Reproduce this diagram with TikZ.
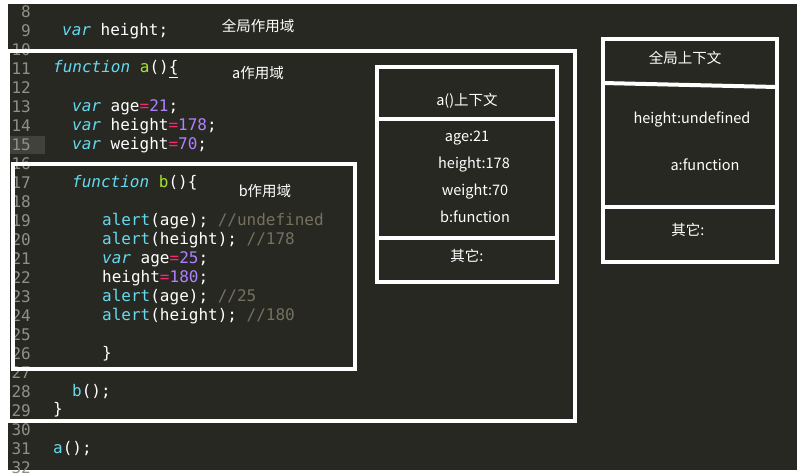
\documentclass[tikz,border=0pt]{standalone}
\usepackage{fontspec}
\setmainfont{Noto Sans CJK SC}
\setmonofont{DejaVu Sans Mono}
\usetikzlibrary{positioning}
\definecolor{bgdark}{HTML}{272822}
\definecolor{lnum}{HTML}{8F908A}
\definecolor{kw}{HTML}{66D9EF}
\definecolor{fn}{HTML}{A6E22E}
\definecolor{num}{HTML}{AE81FF}
\definecolor{op}{HTML}{F92672}
\definecolor{cmt}{HTML}{75715E}
\newcommand{\kv}{\textcolor{kw}{\itshape var}}
\newcommand{\kf}{\textcolor{kw}{\itshape function}}
\newcommand{\nm}[1]{\textcolor{op}{=}\textcolor{num}{#1}}
\tikzset{%
	codeline/.style = {anchor=west, inner sep=0pt, text=white, font=\ttfamily\fontsize{16}{19}\selectfont},
	lineno/.style   = {anchor=east, inner sep=0pt, text=lnum, font=\ttfamily\fontsize{16}{19}\selectfont},
	scopebox/.style = {draw=white, line width=4pt},
	label/.style    = {inner sep=0pt, text=white, font=\fontsize{14.5}{16}\selectfont},
}
\begin{document}
\begin{tikzpicture}[x=1pt,y=-1pt]
	\useasboundingbox (0,0) rectangle (801,475);
	\fill[white] (0,0) rectangle (801,475);
	\fill[bgdark] (8,4) rectangle (797,470);
	\fill[lnum!25!bgdark] (8,136) rectangle (45,154);
	% line numbers
	\foreach \n in {8,...,32}
		\node [lineno] (ln\n) at (31,{12+(\n-8)*19}) {\n};
	% code
	\node [codeline] (c9) at (62,31) {\kv{} height;};
	\node [codeline] (c11) at (53,69) {\kf{} \textcolor{fn}{a}(){\underline{\{}}};
	\node [codeline] (c13) at (72,107) {\kv{} age\nm{21};};
	\node [codeline] (c14) at (72,126) {\kv{} height\nm{178};};
	\node [codeline] (c15) at (72,145) {\kv{} weight\nm{70};};
	\node [codeline] (c17) at (72,183) {\kf{} \textcolor{fn}{b}()\{};
	\node [codeline] (c19) at (102,221) {\textcolor{kw}{alert}(age); \textcolor{cmt}{//undefined}};
	\node [codeline] (c20) at (102,240) {\textcolor{kw}{alert}(height); \textcolor{cmt}{//178}};
	\node [codeline] (c21) at (102,259) {\kv{} age\nm{25};};
	\node [codeline] (c22) at (102,278) {height\nm{180};};
	\node [codeline] (c23) at (102,297) {\textcolor{kw}{alert}(age); \textcolor{cmt}{//25}};
	\node [codeline] (c24) at (102,316) {\textcolor{kw}{alert}(height); \textcolor{cmt}{//180}};
	\node [codeline] (c26) at (102,354) {\}};
	\node [codeline] (c28) at (72,392) {\textcolor{kw}{b}();};
	\node [codeline] (c29) at (53,411) {\underline{\}}};
	\node [codeline] (c31) at (53,449) {\textcolor{kw}{a}();};
	% scopes
	\draw [scopebox] (8,51) rectangle (575,421);
	\draw [scopebox] (13,164) rectangle (355,369);
	\node [label] (gscope) at (258,26) {全局作用域};
	\node [label] (ascope) at (258,73) {a作用域};
	\node [label] (bscope) at (265,191) {b作用域};
	% a() context
	\draw [scopebox] (377,67) rectangle (557,282);
	\draw [scopebox] (377,119) -- (557,119);
	\draw [scopebox] (377,238) -- (557,238);
	\node [label] (actx) at (467,101) {a()上下文};
	\node [label] (aage) at (467,138) {age:21};
	\node [label] (aheight) at (474,165) {height:178};
	\node [label] (aweight) at (475,192) {weight:70};
	\node [label] (ab) at (475,217) {b:function};
	\node [label] (aother) at (467,256) {其它:};
	% global context
	\draw [scopebox] (603,39) rectangle (777,262);
	\draw [scopebox] (603,83) -- (777,87);
	\draw [scopebox] (603,207) -- (777,207);
	\node [label] (gctx) at (685,58) {全局上下文};
	\node [label] (gheight) at (692,119) {height:undefined};
	\node [label] (ga) at (705,165) {a:function};
	\node [label] (gother) at (688,230) {其它:};
\end{tikzpicture}
\end{document}
